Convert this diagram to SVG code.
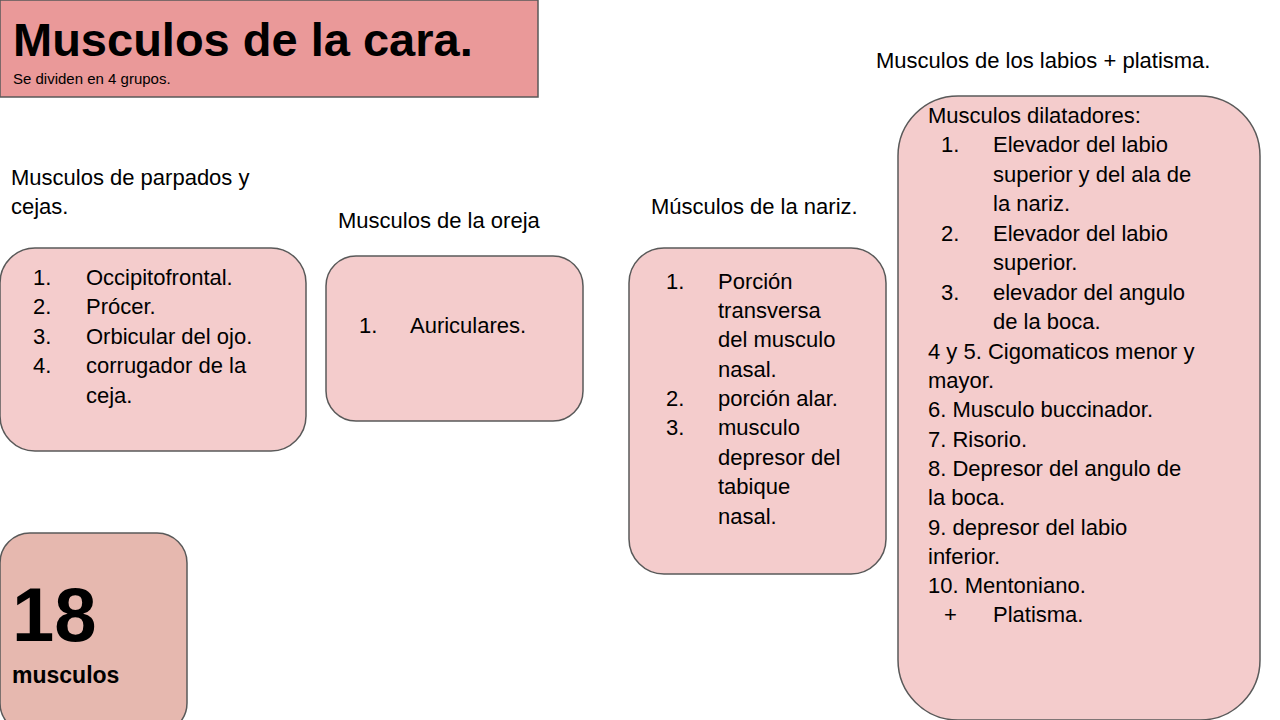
<svg xmlns="http://www.w3.org/2000/svg" width="1280" height="720" viewBox="0 0 1280 720">
<style>
text{font-family:"Liberation Sans",Arial,sans-serif;fill:#000}
.b{fill:#f4cccc;stroke:#595959;stroke-width:1.5}
.t{font-size:22px}
</style>
<rect width="1280" height="720" fill="#fff"/>
<g id="title"><rect x="0" y="0" width="538" height="97" fill="#ea9999" stroke="#595959" stroke-width="1.5"/>
<text x="13" y="56" font-size="47" font-weight="bold">Musculos de la cara.</text>
<text x="13" y="84" font-size="15">Se dividen en 4 grupos.</text></g>
<g id="count"><rect x="0" y="533" width="187" height="200" rx="30" fill="#e6b8af" stroke="#595959" stroke-width="1.5"/>
<text x="12" y="641" font-size="76" font-weight="bold">18</text>
<text x="12" y="683" font-size="23" font-weight="bold">musculos</text></g>
<g id="g1" class="t"><text x="11" y="185">Musculos de parpados y</text><text x="11" y="214">cejas.</text>
<rect class="b" x="0" y="248" width="306" height="203" rx="35"/>
<text x="33" y="285">1.</text><text x="86" y="285">Occipitofrontal.</text>
<text x="33" y="314">2.</text><text x="86" y="314">Prócer.</text>
<text x="33" y="344">3.</text><text x="86" y="344">Orbicular del ojo.</text>
<text x="33" y="373">4.</text><text x="86" y="373">corrugador de la</text>
<text x="86" y="403">ceja.</text></g>
<g id="g2" class="t"><text x="338" y="228">Musculos de la oreja</text>
<rect class="b" x="326" y="256" width="257" height="165" rx="30"/>
<text x="359" y="333">1.</text><text x="410" y="333">Auriculares.</text></g>
<g id="g3" class="t"><text x="651" y="214">Músculos de la nariz.</text>
<rect class="b" x="629" y="248" width="257" height="326" rx="35"/>
<text x="666" y="289">1.</text><text x="718" y="289">Porción</text>
<text x="718" y="318">transversa</text><text x="718" y="347">del musculo</text><text x="718" y="377">nasal.</text>
<text x="666" y="406">2.</text><text x="718" y="406">porción alar.</text>
<text x="666" y="435">3.</text><text x="718" y="435">musculo</text>
<text x="718" y="465">depresor del</text><text x="718" y="494">tabique</text><text x="718" y="524">nasal.</text></g>
<g id="g4" class="t"><text x="876" y="68">Musculos de los labios + platisma.</text>
<rect class="b" x="898" y="96" width="362" height="624" rx="60"/>
<text x="928" y="123">Musculos dilatadores:</text>
<text x="941" y="152">1.</text><text x="993" y="152">Elevador del labio</text>
<text x="993" y="182">superior y del ala de</text><text x="993" y="211">la nariz.</text>
<text x="941" y="241">2.</text><text x="993" y="241">Elevador del labio</text>
<text x="993" y="270">superior.</text>
<text x="941" y="300">3.</text><text x="993" y="300">elevador del angulo</text>
<text x="993" y="329">de la boca.</text>
<text x="928" y="359">4 y 5. Cigomaticos menor y</text>
<text x="928" y="388">mayor.</text>
<text x="928" y="417">6. Musculo buccinador.</text>
<text x="928" y="447">7. Risorio.</text>
<text x="928" y="476">8. Depresor del angulo de</text>
<text x="928" y="505">la boca.</text>
<text x="928" y="535">9. depresor del labio</text>
<text x="928" y="564">inferior.</text>
<text x="928" y="593">10. Mentoniano.</text>
<text x="944" y="622">+</text><text x="993" y="622">Platisma.</text></g>
<g id="connectors"/>
</svg>
